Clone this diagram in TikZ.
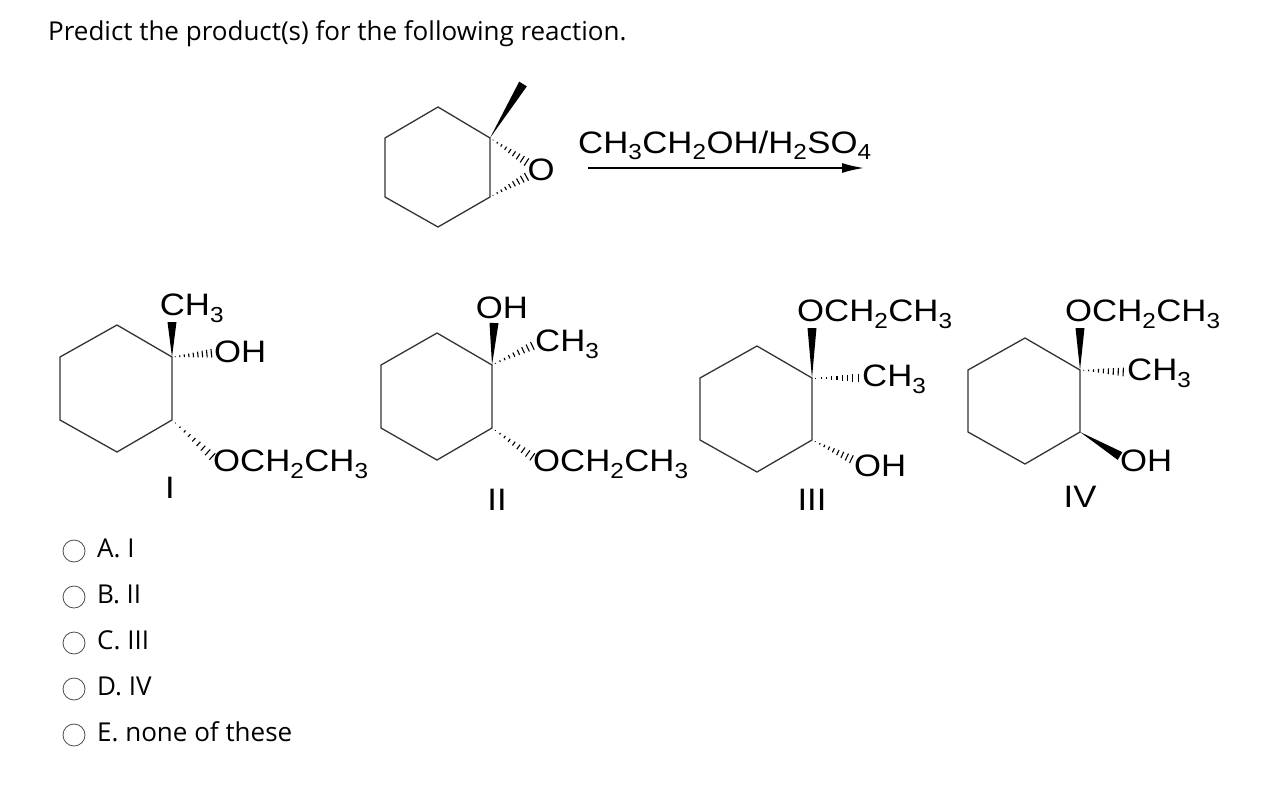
\documentclass[tikz,border=0pt]{standalone}
\usepackage{fontspec}
\setmainfont{Open Sans}
\newfontfamily\chemf[FakeStretch=1.12]{Liberation Sans}
\usetikzlibrary{calc,arrows.meta}
\newcommand{\hsh}[2]{\foreach \i in {0,...,8}{\pgfmathsetmacro\tt{0.08+\i*0.11}\draw[line width=1.1pt] ($(#1)!\tt!(#2)!{\tt*4.5pt}!90:(#2)$) -- ($(#1)!\tt!(#2)!{\tt*4.5pt}!-90:(#2)$);}}
\newcommand{\wdg}[2]{\fill (#1) -- ($(#2)!4.5pt!90:(#1)$) -- ($(#2)!4.5pt!-90:(#1)$) -- cycle;}
\begin{document}
\begin{tikzpicture}[x=1pt,y=-1pt,
  bond/.style={line width=1.3pt,draw=black!80},
  lab/.style={font=\chemf\fontsize{31}{33}\selectfont,inner sep=0pt},
  txt/.style={font=\fontsize{26}{30}\selectfont,inner sep=0pt,anchor=west},
  opt/.style={circle,draw=black!70,line width=0.8pt,minimum size=22pt,inner sep=0pt}]
\useasboundingbox (0,0) rectangle (1271,798);
\node[txt] (q) at (48,34) {Predict the product(s) for the following reaction.};
% reactant
\coordinate (r1) at (490,138); \coordinate (r2) at (490,197); \coordinate (r3) at (438,227);
\coordinate (r4) at (385,197); \coordinate (r5) at (385,138); \coordinate (r6) at (438,107);
\draw[bond] (r1)--(r2)--(r3)--(r4)--(r5)--(r6)--cycle;
\coordinate (rm) at (523,84); \wdg{r1}{rm}
\node[lab] (ro) at (541,170) {O};
\coordinate (o1) at (528,163); \coordinate (o2) at (528,176);
\hsh{r1}{o1} \hsh{r2}{o2}
\coordinate (a1) at (588,168); \coordinate (a2) at (864,168);
\draw[line width=1.6pt,-{Latex[length=22pt,width=10pt]}] (a1)--(a2);
\node[lab,anchor=south west] (reag) at (578,160) {CH\textsubscript{3}CH\textsubscript{2}OH/H\textsubscript{2}SO\textsubscript{4}};
% I
\coordinate (i1) at (172,357); \coordinate (i2) at (172,420); \coordinate (i3) at (117,452);
\coordinate (i4) at (60,420); \coordinate (i5) at (60,357); \coordinate (i6) at (117,325);
\draw[bond] (i1)--(i2)--(i3)--(i4)--(i5)--(i6)--cycle;
\node[lab] (ich) at (192,308) {CH\textsubscript{3}}; \coordinate (iw) at (172,322); \wdg{i1}{iw}
\node[lab,anchor=west] (ioh) at (214,352) {OH}; \coordinate (ih) at (213,353); \hsh{i1}{ih}
\node[lab,anchor=west] (ioe) at (213,464) {OCH\textsubscript{2}CH\textsubscript{3}}; \coordinate (ih2) at (214,458); \hsh{i2}{ih2}
\node[lab] (n1) at (170,488) {I};
% II
\coordinate (j1) at (492,365); \coordinate (j2) at (492,428); \coordinate (j3) at (437,460);
\coordinate (j4) at (381,428); \coordinate (j5) at (381,365); \coordinate (j6) at (437,333);
\draw[bond] (j1)--(j2)--(j3)--(j4)--(j5)--(j6)--cycle;
\node[lab] (joh) at (502,308) {OH}; \coordinate (jw) at (494,323); \wdg{j1}{jw}
\node[lab,anchor=west] (jch) at (535,344) {CH\textsubscript{3}}; \coordinate (jh) at (534,345); \hsh{j1}{jh}
\node[lab,anchor=west] (joe) at (533,464) {OCH\textsubscript{2}CH\textsubscript{3}}; \coordinate (jh2) at (534,458); \hsh{j2}{jh2}
\node[lab] (n2) at (497,500) {II};
% III
\coordinate (k1) at (812,378); \coordinate (k2) at (812,440); \coordinate (k3) at (757,472);
\coordinate (k4) at (700,440); \coordinate (k5) at (700,378); \coordinate (k6) at (757,346);
\draw[bond] (k1)--(k2)--(k3)--(k4)--(k5)--(k6)--cycle;
\node[lab,anchor=west] (koe) at (797,314) {OCH\textsubscript{2}CH\textsubscript{3}}; \coordinate (kw) at (812,328); \wdg{k1}{kw}
\node[lab,anchor=west] (kch) at (862,379) {CH\textsubscript{3}}; \coordinate (kh) at (860,378); \hsh{k1}{kh}
\node[lab,anchor=west] (koh) at (854,466) {OH}; \coordinate (kh2) at (853,460); \hsh{k2}{kh2}
\node[lab] (n3) at (812,500) {III};
% IV
\coordinate (l1) at (1080,370); \coordinate (l2) at (1080,432); \coordinate (l3) at (1025,464);
\coordinate (l4) at (968,432); \coordinate (l5) at (968,370); \coordinate (l6) at (1025,338);
\draw[bond] (l1)--(l2)--(l3)--(l4)--(l5)--(l6)--cycle;
\node[lab,anchor=west] (loe) at (1065,314) {OCH\textsubscript{2}CH\textsubscript{3}}; \coordinate (lw) at (1080,328); \wdg{l1}{lw}
\node[lab,anchor=west] (lch) at (1127,373) {CH\textsubscript{3}}; \coordinate (lh) at (1125,372); \hsh{l1}{lh}
\node[lab,anchor=west] (loh) at (1120,461) {OH}; \coordinate (lw2) at (1120,456); \wdg{l2}{lw2}
\node[lab] (n4) at (1080,497) {IV};
% options
\foreach \y/\t [count=\k] in {551/A. I,597/B. II,643/C. III,689/D. IV,735/E. none of these}{
  \node[opt] (c\k) at (74,\y) {};
  \node[txt] (t\k) at (97,\y-3) {\t};
}
\end{tikzpicture}
\end{document}
